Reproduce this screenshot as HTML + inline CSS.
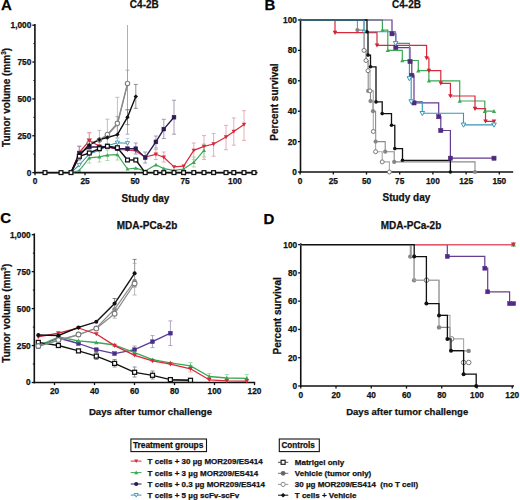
<!DOCTYPE html>
<html><head><meta charset="utf-8"><style>
html,body{margin:0;padding:0;background:#fff;width:520px;height:500px;overflow:hidden}
svg{display:block;font-family:"Liberation Sans",sans-serif}
text{font-family:"Liberation Sans",sans-serif;font-weight:bold;stroke:#111;stroke-width:0.25px}
</style></head><body>
<svg width="520" height="500" viewBox="0 0 520 500" font-family="Liberation Sans, sans-serif" font-weight="bold">
<rect width="520" height="500" fill="#fff"/>
<text x="0.9" y="10.3" font-size="15" text-anchor="start" fill="#000" >A</text>
<text x="264.4" y="10.2" font-size="15" text-anchor="start" fill="#000" >B</text>
<text x="0.3" y="223.4" font-size="15" text-anchor="start" fill="#000" >C</text>
<text x="263.5" y="223.6" font-size="15" text-anchor="start" fill="#000" >D</text>
<text x="144.3" y="8.2" font-size="10" text-anchor="middle" fill="#111" >C4-2B</text>
<text x="406.5" y="8.2" font-size="10" text-anchor="middle" fill="#111" >C4-2B</text>
<text x="147" y="228.5" font-size="10" text-anchor="middle" fill="#111" >MDA-PCa-2b</text>
<text x="411" y="228.8" font-size="10" text-anchor="middle" fill="#111" >MDA-PCa-2b</text>
<line x1="34.9" y1="23.9" x2="34.9" y2="173.4" stroke="#111111" stroke-width="1.6" />
<line x1="32.3" y1="25.2" x2="34.9" y2="25.2" stroke="#111111" stroke-width="1.3" />
<text x="31.3" y="28.19" font-size="8.3" text-anchor="end" fill="#111" >1,000</text>
<line x1="32.3" y1="62.05" x2="34.9" y2="62.05" stroke="#111111" stroke-width="1.3" />
<text x="31.3" y="65.04" font-size="8.3" text-anchor="end" fill="#111" >750</text>
<line x1="32.3" y1="98.9" x2="34.9" y2="98.9" stroke="#111111" stroke-width="1.3" />
<text x="31.3" y="101.89" font-size="8.3" text-anchor="end" fill="#111" >500</text>
<line x1="32.3" y1="135.75" x2="34.9" y2="135.75" stroke="#111111" stroke-width="1.3" />
<text x="31.3" y="138.74" font-size="8.3" text-anchor="end" fill="#111" >250</text>
<line x1="32.3" y1="172.6" x2="34.9" y2="172.6" stroke="#111111" stroke-width="1.3" />
<text x="31.3" y="175.59" font-size="8.3" text-anchor="end" fill="#111" >0</text>
<line x1="33.4" y1="43.62" x2="34.9" y2="43.62" stroke="#111111" stroke-width="1" />
<line x1="33.4" y1="80.47" x2="34.9" y2="80.47" stroke="#111111" stroke-width="1" />
<line x1="33.4" y1="117.32" x2="34.9" y2="117.32" stroke="#111111" stroke-width="1" />
<line x1="33.4" y1="154.17" x2="34.9" y2="154.17" stroke="#111111" stroke-width="1" />
<line x1="34.1" y1="172.6" x2="257.5" y2="172.6" stroke="#111111" stroke-width="1.6" />
<line x1="35" y1="172.6" x2="35" y2="175.2" stroke="#111111" stroke-width="1.3" />
<text x="35" y="183.8" font-size="8.3" text-anchor="middle" fill="#111" >0</text>
<line x1="85" y1="172.6" x2="85" y2="175.2" stroke="#111111" stroke-width="1.3" />
<text x="85" y="183.8" font-size="8.3" text-anchor="middle" fill="#111" >25</text>
<line x1="135" y1="172.6" x2="135" y2="175.2" stroke="#111111" stroke-width="1.3" />
<text x="135" y="183.8" font-size="8.3" text-anchor="middle" fill="#111" >50</text>
<line x1="185" y1="172.6" x2="185" y2="175.2" stroke="#111111" stroke-width="1.3" />
<text x="185" y="183.8" font-size="8.3" text-anchor="middle" fill="#111" >75</text>
<line x1="235" y1="172.6" x2="235" y2="175.2" stroke="#111111" stroke-width="1.3" />
<text x="235" y="183.8" font-size="8.3" text-anchor="middle" fill="#111" >100</text>
<text x="145.5" y="201.5" font-size="10" text-anchor="middle" fill="#111" >Study day</text>
<text x="0" y="0" font-size="10" text-anchor="middle" fill="#111" transform="translate(9.5,97.4) rotate(-90)">Tumor volume (mm<tspan font-size="6.5" dy="-3.9">3</tspan><tspan dy="3.9">)</tspan></text>
<line x1="127.5" y1="25" x2="127.5" y2="134.2" stroke="#b0b0b0" stroke-width="1" />
<line x1="125.5" y1="134.2" x2="129.5" y2="134.2" stroke="#b0b0b0" stroke-width="1" />
<line x1="117.4" y1="97.3" x2="117.4" y2="148" stroke="#b0b0b0" stroke-width="0.8" />
<line x1="115.4" y1="97.3" x2="119.4" y2="97.3" stroke="#b0b0b0" stroke-width="0.8" />
<line x1="115.4" y1="148" x2="119.4" y2="148" stroke="#b0b0b0" stroke-width="0.8" />
<line x1="107.4" y1="119.2" x2="107.4" y2="148" stroke="#b0b0b0" stroke-width="0.8" />
<line x1="105.4" y1="119.2" x2="109.4" y2="119.2" stroke="#b0b0b0" stroke-width="0.8" />
<line x1="105.4" y1="148" x2="109.4" y2="148" stroke="#b0b0b0" stroke-width="0.8" />
<line x1="99.4" y1="130.4" x2="99.4" y2="148" stroke="#b0b0b0" stroke-width="0.8" />
<line x1="97.4" y1="130.4" x2="101.4" y2="130.4" stroke="#b0b0b0" stroke-width="0.8" />
<line x1="97.4" y1="148" x2="101.4" y2="148" stroke="#b0b0b0" stroke-width="0.8" />
<line x1="89.3" y1="133" x2="89.3" y2="150" stroke="#b0b0b0" stroke-width="0.8" />
<line x1="87.3" y1="133" x2="91.3" y2="133" stroke="#b0b0b0" stroke-width="0.8" />
<line x1="87.3" y1="150" x2="91.3" y2="150" stroke="#b0b0b0" stroke-width="0.8" />
<line x1="127.5" y1="70.2" x2="127.5" y2="109.6" stroke="#a0a0a0" stroke-width="0.8" />
<line x1="125.5" y1="70.2" x2="129.5" y2="70.2" stroke="#a0a0a0" stroke-width="0.8" />
<line x1="125.5" y1="109.6" x2="129.5" y2="109.6" stroke="#a0a0a0" stroke-width="0.8" />
<line x1="117.4" y1="116.6" x2="117.4" y2="138" stroke="#a0a0a0" stroke-width="0.8" />
<line x1="115.4" y1="116.6" x2="119.4" y2="116.6" stroke="#a0a0a0" stroke-width="0.8" />
<line x1="115.4" y1="138" x2="119.4" y2="138" stroke="#a0a0a0" stroke-width="0.8" />
<line x1="135.8" y1="84.4" x2="135.8" y2="108.3" stroke="#777777" stroke-width="0.8" />
<line x1="133.8" y1="84.4" x2="137.8" y2="84.4" stroke="#777777" stroke-width="0.8" />
<line x1="133.8" y1="108.3" x2="137.8" y2="108.3" stroke="#777777" stroke-width="0.8" />
<line x1="127.5" y1="109.8" x2="127.5" y2="124.6" stroke="#777777" stroke-width="0.8" />
<line x1="125.5" y1="109.8" x2="129.5" y2="109.8" stroke="#777777" stroke-width="0.8" />
<line x1="125.5" y1="124.6" x2="129.5" y2="124.6" stroke="#777777" stroke-width="0.8" />
<line x1="89.3" y1="132.4" x2="89.3" y2="149" stroke="#e09ca2" stroke-width="0.8" />
<line x1="87.3" y1="132.4" x2="91.3" y2="132.4" stroke="#e09ca2" stroke-width="0.8" />
<line x1="87.3" y1="149" x2="91.3" y2="149" stroke="#e09ca2" stroke-width="0.8" />
<line x1="79.3" y1="146" x2="79.3" y2="158" stroke="#e09ca2" stroke-width="0.8" />
<line x1="77.3" y1="146" x2="81.3" y2="146" stroke="#e09ca2" stroke-width="0.8" />
<line x1="77.3" y1="158" x2="81.3" y2="158" stroke="#e09ca2" stroke-width="0.8" />
<line x1="193.8" y1="143" x2="193.8" y2="159.7" stroke="#e09ca2" stroke-width="0.8" />
<line x1="191.8" y1="143" x2="195.8" y2="143" stroke="#e09ca2" stroke-width="0.8" />
<line x1="191.8" y1="159.7" x2="195.8" y2="159.7" stroke="#e09ca2" stroke-width="0.8" />
<line x1="204" y1="135.6" x2="204" y2="159.4" stroke="#e09ca2" stroke-width="0.8" />
<line x1="202" y1="135.6" x2="206" y2="135.6" stroke="#e09ca2" stroke-width="0.8" />
<line x1="202" y1="159.4" x2="206" y2="159.4" stroke="#e09ca2" stroke-width="0.8" />
<line x1="213.6" y1="133.5" x2="213.6" y2="156.2" stroke="#e09ca2" stroke-width="0.8" />
<line x1="211.6" y1="133.5" x2="215.6" y2="133.5" stroke="#e09ca2" stroke-width="0.8" />
<line x1="211.6" y1="156.2" x2="215.6" y2="156.2" stroke="#e09ca2" stroke-width="0.8" />
<line x1="226" y1="125.4" x2="226" y2="149.7" stroke="#e09ca2" stroke-width="0.8" />
<line x1="224" y1="125.4" x2="228" y2="125.4" stroke="#e09ca2" stroke-width="0.8" />
<line x1="224" y1="149.7" x2="228" y2="149.7" stroke="#e09ca2" stroke-width="0.8" />
<line x1="233.8" y1="117.9" x2="233.8" y2="145.2" stroke="#e09ca2" stroke-width="0.8" />
<line x1="231.8" y1="117.9" x2="235.8" y2="117.9" stroke="#e09ca2" stroke-width="0.8" />
<line x1="231.8" y1="145.2" x2="235.8" y2="145.2" stroke="#e09ca2" stroke-width="0.8" />
<line x1="244" y1="110.7" x2="244" y2="140.4" stroke="#e09ca2" stroke-width="0.8" />
<line x1="242" y1="110.7" x2="246" y2="110.7" stroke="#e09ca2" stroke-width="0.8" />
<line x1="242" y1="140.4" x2="246" y2="140.4" stroke="#e09ca2" stroke-width="0.8" />
<line x1="163.8" y1="152" x2="163.8" y2="162" stroke="#e09ca2" stroke-width="0.8" />
<line x1="161.8" y1="152" x2="165.8" y2="152" stroke="#e09ca2" stroke-width="0.8" />
<line x1="161.8" y1="162" x2="165.8" y2="162" stroke="#e09ca2" stroke-width="0.8" />
<line x1="155.9" y1="149.5" x2="155.9" y2="159.5" stroke="#e09ca2" stroke-width="0.8" />
<line x1="153.9" y1="149.5" x2="157.9" y2="149.5" stroke="#e09ca2" stroke-width="0.8" />
<line x1="153.9" y1="159.5" x2="157.9" y2="159.5" stroke="#e09ca2" stroke-width="0.8" />
<line x1="79.3" y1="146.4" x2="79.3" y2="160" stroke="#8e86a0" stroke-width="0.8" />
<line x1="77.3" y1="146.4" x2="81.3" y2="146.4" stroke="#8e86a0" stroke-width="0.8" />
<line x1="77.3" y1="160" x2="81.3" y2="160" stroke="#8e86a0" stroke-width="0.8" />
<line x1="163.8" y1="119.3" x2="163.8" y2="138.5" stroke="#8e86a0" stroke-width="0.8" />
<line x1="161.8" y1="119.3" x2="165.8" y2="119.3" stroke="#8e86a0" stroke-width="0.8" />
<line x1="161.8" y1="138.5" x2="165.8" y2="138.5" stroke="#8e86a0" stroke-width="0.8" />
<line x1="174" y1="100.2" x2="174" y2="134.2" stroke="#8e86a0" stroke-width="0.8" />
<line x1="172" y1="100.2" x2="176" y2="100.2" stroke="#8e86a0" stroke-width="0.8" />
<line x1="172" y1="134.2" x2="176" y2="134.2" stroke="#8e86a0" stroke-width="0.8" />
<line x1="155.9" y1="136" x2="155.9" y2="148" stroke="#8e86a0" stroke-width="0.8" />
<line x1="153.9" y1="136" x2="157.9" y2="136" stroke="#8e86a0" stroke-width="0.8" />
<line x1="153.9" y1="148" x2="157.9" y2="148" stroke="#8e86a0" stroke-width="0.8" />
<line x1="145.2" y1="152" x2="145.2" y2="163" stroke="#8e86a0" stroke-width="0.8" />
<line x1="143.2" y1="152" x2="147.2" y2="152" stroke="#8e86a0" stroke-width="0.8" />
<line x1="143.2" y1="163" x2="147.2" y2="163" stroke="#8e86a0" stroke-width="0.8" />
<line x1="135.8" y1="143" x2="135.8" y2="154" stroke="#8e86a0" stroke-width="0.8" />
<line x1="133.8" y1="143" x2="137.8" y2="143" stroke="#8e86a0" stroke-width="0.8" />
<line x1="133.8" y1="154" x2="137.8" y2="154" stroke="#8e86a0" stroke-width="0.8" />
<line x1="89.3" y1="153" x2="89.3" y2="163" stroke="#98d49e" stroke-width="0.8" />
<line x1="87.3" y1="153" x2="91.3" y2="153" stroke="#98d49e" stroke-width="0.8" />
<line x1="87.3" y1="163" x2="91.3" y2="163" stroke="#98d49e" stroke-width="0.8" />
<line x1="99.4" y1="151.5" x2="99.4" y2="162" stroke="#98d49e" stroke-width="0.8" />
<line x1="97.4" y1="151.5" x2="101.4" y2="151.5" stroke="#98d49e" stroke-width="0.8" />
<line x1="97.4" y1="162" x2="101.4" y2="162" stroke="#98d49e" stroke-width="0.8" />
<line x1="107.4" y1="150" x2="107.4" y2="160.5" stroke="#98d49e" stroke-width="0.8" />
<line x1="105.4" y1="150" x2="109.4" y2="150" stroke="#98d49e" stroke-width="0.8" />
<line x1="105.4" y1="160.5" x2="109.4" y2="160.5" stroke="#98d49e" stroke-width="0.8" />
<line x1="117.4" y1="149.5" x2="117.4" y2="160" stroke="#98d49e" stroke-width="0.8" />
<line x1="115.4" y1="149.5" x2="119.4" y2="149.5" stroke="#98d49e" stroke-width="0.8" />
<line x1="115.4" y1="160" x2="119.4" y2="160" stroke="#98d49e" stroke-width="0.8" />
<line x1="193.8" y1="157" x2="193.8" y2="167" stroke="#98d49e" stroke-width="0.8" />
<line x1="191.8" y1="157" x2="195.8" y2="157" stroke="#98d49e" stroke-width="0.8" />
<line x1="191.8" y1="167" x2="195.8" y2="167" stroke="#98d49e" stroke-width="0.8" />
<line x1="204" y1="144" x2="204" y2="157" stroke="#98d49e" stroke-width="0.8" />
<line x1="202" y1="144" x2="206" y2="144" stroke="#98d49e" stroke-width="0.8" />
<line x1="202" y1="157" x2="206" y2="157" stroke="#98d49e" stroke-width="0.8" />
<line x1="117.4" y1="138" x2="117.4" y2="147.5" stroke="#9fd4e6" stroke-width="0.8" />
<line x1="115.4" y1="138" x2="119.4" y2="138" stroke="#9fd4e6" stroke-width="0.8" />
<line x1="115.4" y1="147.5" x2="119.4" y2="147.5" stroke="#9fd4e6" stroke-width="0.8" />
<line x1="127.5" y1="138.5" x2="127.5" y2="148.5" stroke="#9fd4e6" stroke-width="0.8" />
<line x1="125.5" y1="138.5" x2="129.5" y2="138.5" stroke="#9fd4e6" stroke-width="0.8" />
<line x1="125.5" y1="148.5" x2="129.5" y2="148.5" stroke="#9fd4e6" stroke-width="0.8" />
<line x1="107.4" y1="139" x2="107.4" y2="149" stroke="#9fd4e6" stroke-width="0.8" />
<line x1="105.4" y1="139" x2="109.4" y2="139" stroke="#9fd4e6" stroke-width="0.8" />
<line x1="105.4" y1="149" x2="109.4" y2="149" stroke="#9fd4e6" stroke-width="0.8" />
<polyline points="71,172.6 79.3,165 89.3,154 99.4,150.3 107.4,145.8 117.4,142.7 127.5,143.2" fill="none" stroke="#3796b8" stroke-width="1.1" stroke-linejoin="round" />
<polyline points="71,172.6 79.3,170.5 89.3,157.9 99.4,156.8 107.4,155.2 117.4,154.7 127.5,169 135.8,168.2 145.2,171 155.9,164.8 163.8,168.6 174,170.3 183.6,169 193.8,162.3 204,150.4" fill="none" stroke="#3ba855" stroke-width="1.2" stroke-linejoin="round" />
<polyline points="71,172.6 79.3,156.5 89.3,143.5 99.4,140.5 107.4,135.5 117.4,124.5 127.5,84.5" fill="none" stroke="#8c8c8c" stroke-width="1.1" stroke-linejoin="round" />
<polyline points="71,172.6 79.3,157.5 89.3,143 99.4,140 107.4,134.5 117.4,123.3 127.5,83.4" fill="none" stroke="#8a8a8a" stroke-width="1.3" stroke-linejoin="round" />
<polyline points="71,172.6 79.3,152.5 89.3,140.6 99.4,146.2 107.4,146.8 117.4,149.5 127.5,150 135.8,151 145.2,157 155.9,154.3 163.8,157.2 174,166.9 183.6,166.2 193.8,150.4 204,146.4 213.6,144 226,137.1 233.8,131.4 244,124.5" fill="none" stroke="#d9293a" stroke-width="1.2" stroke-linejoin="round" />
<polyline points="71,172.6 79.3,153.5 89.3,147 99.4,147 107.4,146.5 117.4,148.7 127.5,148.7 135.8,148.7 145.2,157.7 155.9,141.9 163.8,129.1 174,117.2" fill="none" stroke="#2c1a52" stroke-width="1.4" stroke-linejoin="round" />
<polyline points="71,172.6 79.3,155 89.3,145 99.4,139.7 107.4,137.5 117.4,134.6 127.5,117.2 135.8,96.6" fill="none" stroke="#111111" stroke-width="1.4" stroke-linejoin="round" />
<polyline points="45,172.6 61,172.6 71,172.6 79.3,156.3 89.3,153 99.4,148.6 107.4,146.2 117.4,147.7 127.5,160 135.8,160 145.2,172.6 155.9,172.6 163.8,172.6 174,172.6 183.6,172.6 193.8,172.6 204,172.6 213.6,172.6 226,172.6 233.8,172.6 244,172.6 254,172.6" fill="none" stroke="#111111" stroke-width="1.4" stroke-linejoin="round" />
<path d="M77.3,163.4 L81.3,163.4 L79.3,167 Z" fill="#fff" stroke="#3796b8" stroke-width="0.9"/>
<path d="M87.3,152.4 L91.3,152.4 L89.3,156 Z" fill="#fff" stroke="#3796b8" stroke-width="0.9"/>
<path d="M97.4,148.7 L101.4,148.7 L99.4,152.3 Z" fill="#fff" stroke="#3796b8" stroke-width="0.9"/>
<path d="M105.4,144.2 L109.4,144.2 L107.4,147.8 Z" fill="#fff" stroke="#3796b8" stroke-width="0.9"/>
<path d="M115.4,141.1 L119.4,141.1 L117.4,144.7 Z" fill="#fff" stroke="#3796b8" stroke-width="0.9"/>
<path d="M125.5,141.6 L129.5,141.6 L127.5,145.2 Z" fill="#fff" stroke="#3796b8" stroke-width="0.9"/>
<path d="M77.3,172.1 L81.3,172.1 L79.3,168.5 Z" fill="#3ba855"/>
<path d="M87.3,159.5 L91.3,159.5 L89.3,155.9 Z" fill="#3ba855"/>
<path d="M97.4,158.4 L101.4,158.4 L99.4,154.8 Z" fill="#3ba855"/>
<path d="M105.4,156.8 L109.4,156.8 L107.4,153.2 Z" fill="#3ba855"/>
<path d="M115.4,156.3 L119.4,156.3 L117.4,152.7 Z" fill="#3ba855"/>
<path d="M125.5,170.6 L129.5,170.6 L127.5,167 Z" fill="#3ba855"/>
<path d="M133.8,169.8 L137.8,169.8 L135.8,166.2 Z" fill="#3ba855"/>
<path d="M143.2,172.6 L147.2,172.6 L145.2,169 Z" fill="#3ba855"/>
<path d="M153.9,166.4 L157.9,166.4 L155.9,162.8 Z" fill="#3ba855"/>
<path d="M161.8,170.2 L165.8,170.2 L163.8,166.6 Z" fill="#3ba855"/>
<path d="M172,171.9 L176,171.9 L174,168.3 Z" fill="#3ba855"/>
<path d="M181.6,170.6 L185.6,170.6 L183.6,167 Z" fill="#3ba855"/>
<path d="M191.8,163.9 L195.8,163.9 L193.8,160.3 Z" fill="#3ba855"/>
<path d="M202,152 L206,152 L204,148.4 Z" fill="#3ba855"/>
<circle cx="79.3" cy="156.5" r="2" fill="#8c8c8c"/>
<circle cx="89.3" cy="143.5" r="2" fill="#8c8c8c"/>
<circle cx="99.4" cy="140.5" r="2" fill="#8c8c8c"/>
<circle cx="107.4" cy="135.5" r="2" fill="#8c8c8c"/>
<circle cx="117.4" cy="124.5" r="2" fill="#8c8c8c"/>
<circle cx="127.5" cy="84.5" r="2" fill="#8c8c8c"/>
<circle cx="79.3" cy="157.5" r="2.2" fill="#fff" stroke="#808080" stroke-width="1.1"/>
<circle cx="89.3" cy="143" r="2.2" fill="#fff" stroke="#808080" stroke-width="1.1"/>
<circle cx="99.4" cy="140" r="2.2" fill="#fff" stroke="#808080" stroke-width="1.1"/>
<circle cx="107.4" cy="134.5" r="2.2" fill="#fff" stroke="#808080" stroke-width="1.1"/>
<circle cx="117.4" cy="123.3" r="2.2" fill="#fff" stroke="#808080" stroke-width="1.1"/>
<circle cx="127.5" cy="83.4" r="2.2" fill="#fff" stroke="#808080" stroke-width="1.1"/>
<path d="M77.1,150.74 L81.5,150.74 L79.3,154.7 Z" fill="#d9293a"/>
<path d="M86.6,138.44 L92,138.44 L89.3,143.3 Z" fill="#d9293a"/>
<path d="M97.2,144.44 L101.6,144.44 L99.4,148.4 Z" fill="#d9293a"/>
<path d="M105.2,145.04 L109.6,145.04 L107.4,149 Z" fill="#d9293a"/>
<path d="M115.2,147.74 L119.6,147.74 L117.4,151.7 Z" fill="#d9293a"/>
<path d="M125.3,148.24 L129.7,148.24 L127.5,152.2 Z" fill="#d9293a"/>
<path d="M133.6,149.24 L138,149.24 L135.8,153.2 Z" fill="#d9293a"/>
<path d="M143,155.24 L147.4,155.24 L145.2,159.2 Z" fill="#d9293a"/>
<path d="M153.7,152.54 L158.1,152.54 L155.9,156.5 Z" fill="#d9293a"/>
<path d="M161.6,155.44 L166,155.44 L163.8,159.4 Z" fill="#d9293a"/>
<path d="M171.8,165.14 L176.2,165.14 L174,169.1 Z" fill="#d9293a"/>
<path d="M181.4,164.44 L185.8,164.44 L183.6,168.4 Z" fill="#d9293a"/>
<path d="M191.6,148.64 L196,148.64 L193.8,152.6 Z" fill="#d9293a"/>
<path d="M201.8,144.64 L206.2,144.64 L204,148.6 Z" fill="#d9293a"/>
<path d="M211.4,142.24 L215.8,142.24 L213.6,146.2 Z" fill="#d9293a"/>
<path d="M223.8,135.34 L228.2,135.34 L226,139.3 Z" fill="#d9293a"/>
<path d="M231.6,129.64 L236,129.64 L233.8,133.6 Z" fill="#d9293a"/>
<path d="M241.8,122.74 L246.2,122.74 L244,126.7 Z" fill="#d9293a"/>
<rect x="77.4" y="151.6" width="3.8" height="3.8" fill="#2c1a52" stroke="#2c1a52" stroke-width="0.5"/>
<rect x="87.4" y="145.1" width="3.8" height="3.8" fill="#2c1a52" stroke="#2c1a52" stroke-width="0.5"/>
<rect x="97.5" y="145.1" width="3.8" height="3.8" fill="#2c1a52" stroke="#2c1a52" stroke-width="0.5"/>
<rect x="105.5" y="144.6" width="3.8" height="3.8" fill="#2c1a52" stroke="#2c1a52" stroke-width="0.5"/>
<rect x="115.5" y="146.8" width="3.8" height="3.8" fill="#2c1a52" stroke="#2c1a52" stroke-width="0.5"/>
<rect x="125.6" y="146.8" width="3.8" height="3.8" fill="#2c1a52" stroke="#2c1a52" stroke-width="0.5"/>
<rect x="133.9" y="146.8" width="3.8" height="3.8" fill="#2c1a52" stroke="#2c1a52" stroke-width="0.5"/>
<rect x="143.3" y="155.8" width="3.8" height="3.8" fill="#2c1a52" stroke="#2c1a52" stroke-width="0.5"/>
<rect x="154" y="140" width="3.8" height="3.8" fill="#2c1a52" stroke="#2c1a52" stroke-width="0.5"/>
<rect x="161.9" y="127.2" width="3.8" height="3.8" fill="#2c1a52" stroke="#2c1a52" stroke-width="0.5"/>
<rect x="172.1" y="115.3" width="3.8" height="3.8" fill="#2c1a52" stroke="#2c1a52" stroke-width="0.5"/>
<path d="M79.3,152.8 L81.5,155 L79.3,157.2 L77.1,155 Z" fill="#111111"/>
<path d="M89.3,142.8 L91.5,145 L89.3,147.2 L87.1,145 Z" fill="#111111"/>
<path d="M99.4,137.5 L101.6,139.7 L99.4,141.9 L97.2,139.7 Z" fill="#111111"/>
<path d="M107.4,135.3 L109.6,137.5 L107.4,139.7 L105.2,137.5 Z" fill="#111111"/>
<path d="M117.4,132.4 L119.6,134.6 L117.4,136.8 L115.2,134.6 Z" fill="#111111"/>
<path d="M127.5,115 L129.7,117.2 L127.5,119.4 L125.3,117.2 Z" fill="#111111"/>
<path d="M135.8,94.4 L138,96.6 L135.8,98.8 L133.6,96.6 Z" fill="#111111"/>
<rect x="43.1" y="170.7" width="3.8" height="3.8" fill="#fff" stroke="#111111" stroke-width="1.25"/>
<rect x="59.1" y="170.7" width="3.8" height="3.8" fill="#fff" stroke="#111111" stroke-width="1.25"/>
<rect x="69.1" y="170.7" width="3.8" height="3.8" fill="#fff" stroke="#111111" stroke-width="1.25"/>
<rect x="77.4" y="154.4" width="3.8" height="3.8" fill="#fff" stroke="#111111" stroke-width="1.25"/>
<rect x="87.4" y="151.1" width="3.8" height="3.8" fill="#fff" stroke="#111111" stroke-width="1.25"/>
<rect x="97.5" y="146.7" width="3.8" height="3.8" fill="#fff" stroke="#111111" stroke-width="1.25"/>
<rect x="105.5" y="144.3" width="3.8" height="3.8" fill="#fff" stroke="#111111" stroke-width="1.25"/>
<rect x="115.5" y="145.8" width="3.8" height="3.8" fill="#fff" stroke="#111111" stroke-width="1.25"/>
<rect x="125.6" y="158.1" width="3.8" height="3.8" fill="#fff" stroke="#111111" stroke-width="1.25"/>
<rect x="133.9" y="158.1" width="3.8" height="3.8" fill="#fff" stroke="#111111" stroke-width="1.25"/>
<rect x="143.3" y="170.7" width="3.8" height="3.8" fill="#fff" stroke="#111111" stroke-width="1.25"/>
<rect x="154" y="170.7" width="3.8" height="3.8" fill="#fff" stroke="#111111" stroke-width="1.25"/>
<rect x="161.9" y="170.7" width="3.8" height="3.8" fill="#fff" stroke="#111111" stroke-width="1.25"/>
<rect x="172.1" y="170.7" width="3.8" height="3.8" fill="#fff" stroke="#111111" stroke-width="1.25"/>
<rect x="181.7" y="170.7" width="3.8" height="3.8" fill="#fff" stroke="#111111" stroke-width="1.25"/>
<rect x="191.9" y="170.7" width="3.8" height="3.8" fill="#fff" stroke="#111111" stroke-width="1.25"/>
<rect x="202.1" y="170.7" width="3.8" height="3.8" fill="#fff" stroke="#111111" stroke-width="1.25"/>
<rect x="211.7" y="170.7" width="3.8" height="3.8" fill="#fff" stroke="#111111" stroke-width="1.25"/>
<rect x="224.1" y="170.7" width="3.8" height="3.8" fill="#fff" stroke="#111111" stroke-width="1.25"/>
<rect x="231.9" y="170.7" width="3.8" height="3.8" fill="#fff" stroke="#111111" stroke-width="1.25"/>
<rect x="242.1" y="170.7" width="3.8" height="3.8" fill="#fff" stroke="#111111" stroke-width="1.25"/>
<rect x="252.1" y="170.7" width="3.8" height="3.8" fill="#fff" stroke="#111111" stroke-width="1.25"/>
<line x1="300.5" y1="18.7" x2="300.5" y2="172.8" stroke="#111111" stroke-width="1.6" />
<line x1="297.9" y1="20" x2="300.5" y2="20" stroke="#111111" stroke-width="1.3" />
<text x="296.9" y="22.99" font-size="8.3" text-anchor="end" fill="#111" >100</text>
<line x1="297.9" y1="50.4" x2="300.5" y2="50.4" stroke="#111111" stroke-width="1.3" />
<text x="296.9" y="53.39" font-size="8.3" text-anchor="end" fill="#111" >80</text>
<line x1="297.9" y1="80.8" x2="300.5" y2="80.8" stroke="#111111" stroke-width="1.3" />
<text x="296.9" y="83.79" font-size="8.3" text-anchor="end" fill="#111" >60</text>
<line x1="297.9" y1="111.2" x2="300.5" y2="111.2" stroke="#111111" stroke-width="1.3" />
<text x="296.9" y="114.19" font-size="8.3" text-anchor="end" fill="#111" >40</text>
<line x1="297.9" y1="141.6" x2="300.5" y2="141.6" stroke="#111111" stroke-width="1.3" />
<text x="296.9" y="144.59" font-size="8.3" text-anchor="end" fill="#111" >20</text>
<line x1="297.9" y1="172" x2="300.5" y2="172" stroke="#111111" stroke-width="1.3" />
<text x="296.9" y="174.99" font-size="8.3" text-anchor="end" fill="#111" >0</text>
<line x1="299.7" y1="172" x2="513.2" y2="172" stroke="#111111" stroke-width="1.6" />
<line x1="300.1" y1="172" x2="300.1" y2="174.6" stroke="#111111" stroke-width="1.3" />
<text x="300.1" y="183.6" font-size="8.3" text-anchor="middle" fill="#111" >0</text>
<line x1="333.3" y1="172" x2="333.3" y2="174.6" stroke="#111111" stroke-width="1.3" />
<text x="333.3" y="183.6" font-size="8.3" text-anchor="middle" fill="#111" >25</text>
<line x1="366.5" y1="172" x2="366.5" y2="174.6" stroke="#111111" stroke-width="1.3" />
<text x="366.5" y="183.6" font-size="8.3" text-anchor="middle" fill="#111" >50</text>
<line x1="399.7" y1="172" x2="399.7" y2="174.6" stroke="#111111" stroke-width="1.3" />
<text x="399.7" y="183.6" font-size="8.3" text-anchor="middle" fill="#111" >75</text>
<line x1="432.9" y1="172" x2="432.9" y2="174.6" stroke="#111111" stroke-width="1.3" />
<text x="432.9" y="183.6" font-size="8.3" text-anchor="middle" fill="#111" >100</text>
<line x1="466.1" y1="172" x2="466.1" y2="174.6" stroke="#111111" stroke-width="1.3" />
<text x="466.1" y="183.6" font-size="8.3" text-anchor="middle" fill="#111" >125</text>
<line x1="499.3" y1="172" x2="499.3" y2="174.6" stroke="#111111" stroke-width="1.3" />
<text x="499.3" y="183.6" font-size="8.3" text-anchor="middle" fill="#111" >150</text>
<text x="406.4" y="201.4" font-size="10" text-anchor="middle" fill="#111" >Study day</text>
<text x="0" y="0" font-size="10" text-anchor="middle" fill="#111" transform="translate(278.3,102) rotate(-90)">Percent survival</text>
<path d="M300.5,20 H382.4 V30.1 H387.8 V50.4 H402.3 V60.5 H418.3 V70.7 H428.9 V80.8 H459.7 V101 H484.8 V111.2 H494" fill="none" stroke="#3ba855" stroke-width="1.2" stroke-linejoin="miter"/>
<path d="M300.5,20 H392 V33.8 H395.8 V47.6 H410 V61.5 H411.8 V75.3 H414 V102.9 H438.7 V116.7 H440.8 V130.5 H450.4 V158.2 H494" fill="none" stroke="#633b93" stroke-width="1.2" stroke-linejoin="miter"/>
<path d="M300.5,20 H335 V32.7 H377 V45.3 H426.6 V58 H428.9 V70.7 H440.8 V83.3 H450.4 V96 H475 V108.7 H485.5 V121.3 H494" fill="none" stroke="#d9293a" stroke-width="1.2" stroke-linejoin="miter"/>
<path d="M300.5,20 H357.4 V30.1 H364.2 V50.4 H366.2 V60.5 H368.2 V90.9 H370.5 V101.1 H373 V111.2 H375.6 V141.6 H385.2 V151.7 H394.2 V161.9 H475 V172" fill="none" stroke="#8a8a8a" stroke-width="1.1" stroke-linejoin="miter"/>
<path d="M300.5,20 H364 V50.4 H366 V60.5 H368 V70.7 H370 V90.9 H373.3 V131.5 H375.6 V151.7 H382.2 V161.9 H389.4 V172" fill="none" stroke="#a8a8a8" stroke-width="1.1" stroke-linejoin="miter"/>
<path d="M300.5,20 H367 V31.7 H368 V55.1 H370.5 V66.8 H376 V101.9 H382.2 V113.6 H391.5 V125.3 H394.8 V148.6 H402.5 V160.3 H450.4 V172" fill="none" stroke="#111111" stroke-width="1.3" stroke-linejoin="miter"/>
<path d="M300.5,20 H364 V31.7 H395.6 V43.4 H409.4 V78.5 H411.2 V101.6 H422.3 V113.3 H463.5 V124.9 H494" fill="none" stroke="#3796b8" stroke-width="1.1" stroke-linejoin="miter"/>
<path d="M380.3,31.78 L384.5,31.78 L382.4,28 Z" fill="#3ba855"/>
<path d="M385.7,52.08 L389.9,52.08 L387.8,48.3 Z" fill="#3ba855"/>
<path d="M400.2,62.18 L404.4,62.18 L402.3,58.4 Z" fill="#3ba855"/>
<path d="M416.2,72.38 L420.4,72.38 L418.3,68.6 Z" fill="#3ba855"/>
<path d="M426.8,82.48 L431,82.48 L428.9,78.7 Z" fill="#3ba855"/>
<path d="M457.6,102.68 L461.8,102.68 L459.7,98.9 Z" fill="#3ba855"/>
<path d="M482.7,112.88 L486.9,112.88 L484.8,109.1 Z" fill="#3ba855"/>
<path d="M491.9,112.88 L496.1,112.88 L494,109.1 Z" fill="#3ba855"/>
<rect x="389.9" y="31.7" width="4.2" height="4.2" fill="#4f2a7d" stroke="#4f2a7d" stroke-width="0.5"/>
<rect x="393.7" y="45.5" width="4.2" height="4.2" fill="#4f2a7d" stroke="#4f2a7d" stroke-width="0.5"/>
<rect x="407.9" y="59.4" width="4.2" height="4.2" fill="#4f2a7d" stroke="#4f2a7d" stroke-width="0.5"/>
<rect x="409.7" y="73.2" width="4.2" height="4.2" fill="#4f2a7d" stroke="#4f2a7d" stroke-width="0.5"/>
<rect x="411.9" y="100.8" width="4.2" height="4.2" fill="#4f2a7d" stroke="#4f2a7d" stroke-width="0.5"/>
<rect x="436.6" y="114.6" width="4.2" height="4.2" fill="#4f2a7d" stroke="#4f2a7d" stroke-width="0.5"/>
<rect x="438.7" y="128.4" width="4.2" height="4.2" fill="#4f2a7d" stroke="#4f2a7d" stroke-width="0.5"/>
<rect x="448.3" y="156.1" width="4.2" height="4.2" fill="#4f2a7d" stroke="#4f2a7d" stroke-width="0.5"/>
<rect x="491.9" y="156.1" width="4.2" height="4.2" fill="#4f2a7d" stroke="#4f2a7d" stroke-width="0.5"/>
<path d="M332.7,30.86 L337.3,30.86 L335,35 Z" fill="#cf2236"/>
<path d="M374.7,43.46 L379.3,43.46 L377,47.6 Z" fill="#cf2236"/>
<path d="M424.3,56.16 L428.9,56.16 L426.6,60.3 Z" fill="#cf2236"/>
<path d="M426.6,68.86 L431.2,68.86 L428.9,73 Z" fill="#cf2236"/>
<path d="M438.5,81.46 L443.1,81.46 L440.8,85.6 Z" fill="#cf2236"/>
<path d="M448.1,94.16 L452.7,94.16 L450.4,98.3 Z" fill="#cf2236"/>
<path d="M472.7,106.86 L477.3,106.86 L475,111 Z" fill="#cf2236"/>
<path d="M483.2,119.46 L487.8,119.46 L485.5,123.6 Z" fill="#cf2236"/>
<path d="M491.7,119.46 L496.3,119.46 L494,123.6 Z" fill="#cf2236"/>
<circle cx="357.4" cy="30.1" r="2.1" fill="#858585"/>
<circle cx="368.2" cy="90.9" r="2.1" fill="#858585"/>
<circle cx="370.5" cy="101.1" r="2.1" fill="#858585"/>
<circle cx="373" cy="111.2" r="2.1" fill="#858585"/>
<circle cx="375.6" cy="141.6" r="2.1" fill="#858585"/>
<circle cx="385.2" cy="151.7" r="2.1" fill="#858585"/>
<circle cx="394.2" cy="161.9" r="2.1" fill="#858585"/>
<circle cx="475" cy="172" r="2.1" fill="#858585"/>
<circle cx="364" cy="50.4" r="2" fill="#fff" stroke="#777777" stroke-width="1"/>
<circle cx="366" cy="60.5" r="2" fill="#fff" stroke="#777777" stroke-width="1"/>
<circle cx="368" cy="70.7" r="2" fill="#fff" stroke="#777777" stroke-width="1"/>
<circle cx="370" cy="90.9" r="2" fill="#fff" stroke="#777777" stroke-width="1"/>
<circle cx="373.3" cy="131.5" r="2" fill="#fff" stroke="#777777" stroke-width="1"/>
<circle cx="375.6" cy="151.7" r="2" fill="#fff" stroke="#777777" stroke-width="1"/>
<circle cx="382.2" cy="161.9" r="2" fill="#fff" stroke="#777777" stroke-width="1"/>
<circle cx="389.4" cy="172" r="2" fill="#fff" stroke="#777777" stroke-width="1"/>
<circle cx="367" cy="31.7" r="1.8" fill="#111111"/>
<circle cx="368" cy="55.1" r="1.8" fill="#111111"/>
<circle cx="370.5" cy="66.8" r="1.8" fill="#111111"/>
<circle cx="376" cy="101.9" r="1.8" fill="#111111"/>
<circle cx="382.2" cy="113.6" r="1.8" fill="#111111"/>
<circle cx="391.5" cy="125.3" r="1.8" fill="#111111"/>
<circle cx="394.8" cy="148.6" r="1.8" fill="#111111"/>
<circle cx="402.5" cy="160.3" r="1.8" fill="#111111"/>
<circle cx="450.4" cy="172" r="1.8" fill="#111111"/>
<path d="M362.2,30.26 L365.8,30.26 L364,33.5 Z" fill="#fff" stroke="#3796b8" stroke-width="1"/>
<path d="M393.3,41.56 L397.9,41.56 L395.6,45.7 Z" fill="#fff" stroke="#3796b8" stroke-width="1"/>
<path d="M407.1,76.66 L411.7,76.66 L409.4,80.8 Z" fill="#fff" stroke="#3796b8" stroke-width="1"/>
<path d="M408.9,99.76 L413.5,99.76 L411.2,103.9 Z" fill="#fff" stroke="#3796b8" stroke-width="1"/>
<path d="M420,111.46 L424.6,111.46 L422.3,115.6 Z" fill="#fff" stroke="#3796b8" stroke-width="1"/>
<path d="M461.2,123.06 L465.8,123.06 L463.5,127.2 Z" fill="#fff" stroke="#3796b8" stroke-width="1"/>
<path d="M491.7,123.06 L496.3,123.06 L494,127.2 Z" fill="#fff" stroke="#3796b8" stroke-width="1"/>
<line x1="34.3" y1="233.4" x2="34.3" y2="383.3" stroke="#111111" stroke-width="1.6" />
<line x1="31.7" y1="234.7" x2="34.3" y2="234.7" stroke="#111111" stroke-width="1.3" />
<text x="30.7" y="237.69" font-size="8.3" text-anchor="end" fill="#111" >1,000</text>
<line x1="31.7" y1="271.65" x2="34.3" y2="271.65" stroke="#111111" stroke-width="1.3" />
<text x="30.7" y="274.64" font-size="8.3" text-anchor="end" fill="#111" >750</text>
<line x1="31.7" y1="308.6" x2="34.3" y2="308.6" stroke="#111111" stroke-width="1.3" />
<text x="30.7" y="311.59" font-size="8.3" text-anchor="end" fill="#111" >500</text>
<line x1="31.7" y1="345.55" x2="34.3" y2="345.55" stroke="#111111" stroke-width="1.3" />
<text x="30.7" y="348.54" font-size="8.3" text-anchor="end" fill="#111" >250</text>
<line x1="31.7" y1="382.5" x2="34.3" y2="382.5" stroke="#111111" stroke-width="1.3" />
<text x="30.7" y="385.49" font-size="8.3" text-anchor="end" fill="#111" >0</text>
<line x1="32.8" y1="253.17" x2="34.3" y2="253.17" stroke="#111111" stroke-width="1" />
<line x1="32.8" y1="290.12" x2="34.3" y2="290.12" stroke="#111111" stroke-width="1" />
<line x1="32.8" y1="327.07" x2="34.3" y2="327.07" stroke="#111111" stroke-width="1" />
<line x1="32.8" y1="364.02" x2="34.3" y2="364.02" stroke="#111111" stroke-width="1" />
<line x1="33.5" y1="382.5" x2="255.2" y2="382.5" stroke="#111111" stroke-width="1.6" />
<line x1="54.5" y1="382.5" x2="54.5" y2="385.1" stroke="#111111" stroke-width="1.3" />
<text x="54.5" y="394.2" font-size="8.3" text-anchor="middle" fill="#111" >20</text>
<line x1="94.5" y1="382.5" x2="94.5" y2="385.1" stroke="#111111" stroke-width="1.3" />
<text x="94.5" y="394.2" font-size="8.3" text-anchor="middle" fill="#111" >40</text>
<line x1="134.5" y1="382.5" x2="134.5" y2="385.1" stroke="#111111" stroke-width="1.3" />
<text x="134.5" y="394.2" font-size="8.3" text-anchor="middle" fill="#111" >60</text>
<line x1="174.5" y1="382.5" x2="174.5" y2="385.1" stroke="#111111" stroke-width="1.3" />
<text x="174.5" y="394.2" font-size="8.3" text-anchor="middle" fill="#111" >80</text>
<line x1="214.5" y1="382.5" x2="214.5" y2="385.1" stroke="#111111" stroke-width="1.3" />
<text x="214.5" y="394.2" font-size="8.3" text-anchor="middle" fill="#111" >100</text>
<line x1="254.5" y1="382.5" x2="254.5" y2="385.1" stroke="#111111" stroke-width="1.3" />
<text x="254.5" y="394.2" font-size="8.3" text-anchor="middle" fill="#111" >120</text>
<text x="150.5" y="415.2" font-size="9.6" text-anchor="middle" fill="#111" >Days after tumor challenge</text>
<text x="0" y="0" font-size="10" text-anchor="middle" fill="#111" transform="translate(9.6,313.2) rotate(-90)">Tumor volume (mm<tspan font-size="6.5" dy="-3.9">3</tspan><tspan dy="3.9">)</tspan></text>
<line x1="134.6" y1="259.4" x2="134.6" y2="287" stroke="#666666" stroke-width="0.8" />
<line x1="132.6" y1="259.4" x2="136.6" y2="259.4" stroke="#666666" stroke-width="0.8" />
<line x1="132.6" y1="287" x2="136.6" y2="287" stroke="#666666" stroke-width="0.8" />
<line x1="114.6" y1="298.5" x2="114.6" y2="309" stroke="#666666" stroke-width="0.8" />
<line x1="112.6" y1="298.5" x2="116.6" y2="298.5" stroke="#666666" stroke-width="0.8" />
<line x1="112.6" y1="309" x2="116.6" y2="309" stroke="#666666" stroke-width="0.8" />
<line x1="134.6" y1="263.4" x2="134.6" y2="295" stroke="#aaaaaa" stroke-width="0.8" />
<line x1="132.6" y1="263.4" x2="136.6" y2="263.4" stroke="#aaaaaa" stroke-width="0.8" />
<line x1="132.6" y1="295" x2="136.6" y2="295" stroke="#aaaaaa" stroke-width="0.8" />
<line x1="114.6" y1="303" x2="114.6" y2="318.2" stroke="#aaaaaa" stroke-width="0.8" />
<line x1="112.6" y1="303" x2="116.6" y2="303" stroke="#aaaaaa" stroke-width="0.8" />
<line x1="112.6" y1="318.2" x2="116.6" y2="318.2" stroke="#aaaaaa" stroke-width="0.8" />
<line x1="152.5" y1="335.6" x2="152.5" y2="347.6" stroke="#9c92b4" stroke-width="0.8" />
<line x1="150.5" y1="335.6" x2="154.5" y2="335.6" stroke="#9c92b4" stroke-width="0.8" />
<line x1="150.5" y1="347.6" x2="154.5" y2="347.6" stroke="#9c92b4" stroke-width="0.8" />
<line x1="170.4" y1="320.9" x2="170.4" y2="345.5" stroke="#9c92b4" stroke-width="0.8" />
<line x1="168.4" y1="320.9" x2="172.4" y2="320.9" stroke="#9c92b4" stroke-width="0.8" />
<line x1="168.4" y1="345.5" x2="172.4" y2="345.5" stroke="#9c92b4" stroke-width="0.8" />
<line x1="134.6" y1="346" x2="134.6" y2="353.5" stroke="#9c92b4" stroke-width="0.8" />
<line x1="132.6" y1="346" x2="136.6" y2="346" stroke="#9c92b4" stroke-width="0.8" />
<line x1="132.6" y1="353.5" x2="136.6" y2="353.5" stroke="#9c92b4" stroke-width="0.8" />
<line x1="209.2" y1="373.5" x2="209.2" y2="379.5" stroke="#98d49e" stroke-width="0.8" />
<line x1="207.2" y1="373.5" x2="211.2" y2="373.5" stroke="#98d49e" stroke-width="0.8" />
<line x1="207.2" y1="379.5" x2="211.2" y2="379.5" stroke="#98d49e" stroke-width="0.8" />
<line x1="226.8" y1="374.5" x2="226.8" y2="381" stroke="#98d49e" stroke-width="0.8" />
<line x1="224.8" y1="374.5" x2="228.8" y2="374.5" stroke="#98d49e" stroke-width="0.8" />
<line x1="224.8" y1="381" x2="228.8" y2="381" stroke="#98d49e" stroke-width="0.8" />
<line x1="246.8" y1="374.5" x2="246.8" y2="381.5" stroke="#98d49e" stroke-width="0.8" />
<line x1="244.8" y1="374.5" x2="248.8" y2="374.5" stroke="#98d49e" stroke-width="0.8" />
<line x1="244.8" y1="381.5" x2="248.8" y2="381.5" stroke="#98d49e" stroke-width="0.8" />
<line x1="190.5" y1="362.5" x2="190.5" y2="369" stroke="#98d49e" stroke-width="0.8" />
<line x1="188.5" y1="362.5" x2="192.5" y2="362.5" stroke="#98d49e" stroke-width="0.8" />
<line x1="188.5" y1="369" x2="192.5" y2="369" stroke="#98d49e" stroke-width="0.8" />
<line x1="190.5" y1="365.5" x2="190.5" y2="372" stroke="#e09ca2" stroke-width="0.8" />
<line x1="188.5" y1="365.5" x2="192.5" y2="365.5" stroke="#e09ca2" stroke-width="0.8" />
<line x1="188.5" y1="372" x2="192.5" y2="372" stroke="#e09ca2" stroke-width="0.8" />
<line x1="114.6" y1="359.5" x2="114.6" y2="367" stroke="#777777" stroke-width="0.8" />
<line x1="112.6" y1="359.5" x2="116.6" y2="359.5" stroke="#777777" stroke-width="0.8" />
<line x1="112.6" y1="367" x2="116.6" y2="367" stroke="#777777" stroke-width="0.8" />
<line x1="134.6" y1="367" x2="134.6" y2="377" stroke="#777777" stroke-width="0.8" />
<line x1="132.6" y1="367" x2="136.6" y2="367" stroke="#777777" stroke-width="0.8" />
<line x1="132.6" y1="377" x2="136.6" y2="377" stroke="#777777" stroke-width="0.8" />
<line x1="152.5" y1="371" x2="152.5" y2="379" stroke="#777777" stroke-width="0.8" />
<line x1="150.5" y1="371" x2="154.5" y2="371" stroke="#777777" stroke-width="0.8" />
<line x1="150.5" y1="379" x2="154.5" y2="379" stroke="#777777" stroke-width="0.8" />
<line x1="96.3" y1="352.5" x2="96.3" y2="359.5" stroke="#777777" stroke-width="0.8" />
<line x1="94.3" y1="352.5" x2="98.3" y2="352.5" stroke="#777777" stroke-width="0.8" />
<line x1="94.3" y1="359.5" x2="98.3" y2="359.5" stroke="#777777" stroke-width="0.8" />
<polyline points="38.3,346.5 58.4,338 78.5,343.5 96.3,349.7 114.6,353.6 134.6,349.7 152.5,341.7 170.4,333.2" fill="none" stroke="#5b3e9c" stroke-width="1.3" stroke-linejoin="round" />
<rect x="36.4" y="344.6" width="3.8" height="3.8" fill="#4a2e8c" stroke="#4a2e8c" stroke-width="0.5"/>
<rect x="56.5" y="336.1" width="3.8" height="3.8" fill="#4a2e8c" stroke="#4a2e8c" stroke-width="0.5"/>
<rect x="76.6" y="341.6" width="3.8" height="3.8" fill="#4a2e8c" stroke="#4a2e8c" stroke-width="0.5"/>
<rect x="94.4" y="347.8" width="3.8" height="3.8" fill="#4a2e8c" stroke="#4a2e8c" stroke-width="0.5"/>
<rect x="112.7" y="351.7" width="3.8" height="3.8" fill="#4a2e8c" stroke="#4a2e8c" stroke-width="0.5"/>
<rect x="132.7" y="347.8" width="3.8" height="3.8" fill="#4a2e8c" stroke="#4a2e8c" stroke-width="0.5"/>
<rect x="150.6" y="339.8" width="3.8" height="3.8" fill="#4a2e8c" stroke="#4a2e8c" stroke-width="0.5"/>
<rect x="168.5" y="331.3" width="3.8" height="3.8" fill="#4a2e8c" stroke="#4a2e8c" stroke-width="0.5"/>
<polyline points="38.3,345.8 58.4,337 78.5,340.8 96.3,342.5 114.6,345 134.6,352.7 152.5,359.6 170.4,362.8 190.5,365.9 209.2,376.5 226.8,378 246.8,378.3" fill="none" stroke="#3ba855" stroke-width="1.3" stroke-linejoin="round" />
<path d="M36.1,347.56 L40.5,347.56 L38.3,343.6 Z" fill="#3ba855"/>
<path d="M56.2,338.76 L60.6,338.76 L58.4,334.8 Z" fill="#3ba855"/>
<path d="M76.3,342.56 L80.7,342.56 L78.5,338.6 Z" fill="#3ba855"/>
<path d="M94.1,344.26 L98.5,344.26 L96.3,340.3 Z" fill="#3ba855"/>
<path d="M112.4,346.76 L116.8,346.76 L114.6,342.8 Z" fill="#3ba855"/>
<path d="M132.4,354.46 L136.8,354.46 L134.6,350.5 Z" fill="#3ba855"/>
<path d="M150.3,361.36 L154.7,361.36 L152.5,357.4 Z" fill="#3ba855"/>
<path d="M168.2,364.56 L172.6,364.56 L170.4,360.6 Z" fill="#3ba855"/>
<path d="M188.3,367.66 L192.7,367.66 L190.5,363.7 Z" fill="#3ba855"/>
<path d="M207,378.26 L211.4,378.26 L209.2,374.3 Z" fill="#3ba855"/>
<path d="M224.6,379.76 L229,379.76 L226.8,375.8 Z" fill="#3ba855"/>
<path d="M244.6,380.06 L249,380.06 L246.8,376.1 Z" fill="#3ba855"/>
<line x1="172.5" y1="380.2" x2="188.5" y2="380.4" stroke="#6a6a6a" stroke-width="2.2" />
<polyline points="38.3,342.4 58.4,345.5 78.5,350.9 96.3,356.1 114.6,363.4 134.6,372.3 152.5,375.3 170.4,379.6 190.5,380.3" fill="none" stroke="#111111" stroke-width="1.3" stroke-linejoin="round" />
<rect x="36.3" y="340.4" width="4" height="4" fill="#fff" stroke="#111111" stroke-width="1.25"/>
<rect x="56.4" y="343.5" width="4" height="4" fill="#fff" stroke="#111111" stroke-width="1.25"/>
<rect x="76.5" y="348.9" width="4" height="4" fill="#fff" stroke="#111111" stroke-width="1.25"/>
<rect x="94.3" y="354.1" width="4" height="4" fill="#fff" stroke="#111111" stroke-width="1.25"/>
<rect x="112.6" y="361.4" width="4" height="4" fill="#fff" stroke="#111111" stroke-width="1.25"/>
<rect x="132.6" y="370.3" width="4" height="4" fill="#fff" stroke="#111111" stroke-width="1.25"/>
<rect x="150.5" y="373.3" width="4" height="4" fill="#fff" stroke="#111111" stroke-width="1.25"/>
<rect x="168.4" y="377.6" width="4" height="4" fill="#fff" stroke="#111111" stroke-width="1.25"/>
<rect x="188.5" y="378.3" width="4" height="4" fill="#fff" stroke="#111111" stroke-width="1.25"/>
<polyline points="38.3,346.5 58.4,340.5 78.5,334.8 96.3,328 114.6,309.2 134.6,281" fill="none" stroke="#8a8a8a" stroke-width="1.2" stroke-linejoin="round" />
<circle cx="38.3" cy="346.5" r="2.2" fill="#8a8a8a"/>
<circle cx="58.4" cy="340.5" r="2.2" fill="#8a8a8a"/>
<circle cx="78.5" cy="334.8" r="2.2" fill="#8a8a8a"/>
<circle cx="96.3" cy="328" r="2.2" fill="#8a8a8a"/>
<circle cx="114.6" cy="309.2" r="2.2" fill="#8a8a8a"/>
<circle cx="134.6" cy="281" r="2.2" fill="#8a8a8a"/>
<polyline points="38.3,346 58.4,340 78.5,334.5 96.3,328.5 114.6,313.7 134.6,283.5" fill="none" stroke="#8a8a8a" stroke-width="1.2" stroke-linejoin="round" />
<circle cx="38.3" cy="346" r="2.4" fill="#fff" stroke="#7a7a7a" stroke-width="1.1"/>
<circle cx="58.4" cy="340" r="2.4" fill="#fff" stroke="#7a7a7a" stroke-width="1.1"/>
<circle cx="78.5" cy="334.5" r="2.4" fill="#fff" stroke="#7a7a7a" stroke-width="1.1"/>
<circle cx="96.3" cy="328.5" r="2.4" fill="#fff" stroke="#7a7a7a" stroke-width="1.1"/>
<circle cx="114.6" cy="313.7" r="2.4" fill="#fff" stroke="#7a7a7a" stroke-width="1.1"/>
<circle cx="134.6" cy="283.5" r="2.4" fill="#fff" stroke="#7a7a7a" stroke-width="1.1"/>
<polyline points="38.3,336.9 58.4,333.1 78.5,328 96.3,334 114.6,345.6 134.6,355.3 152.5,360.9 170.4,364.1 190.5,368.8 209.2,379.8 226.8,380.8 246.8,381.2" fill="none" stroke="#d9293a" stroke-width="1.3" stroke-linejoin="round" />
<path d="M36,335.06 L40.6,335.06 L38.3,339.2 Z" fill="#d9293a"/>
<path d="M56.1,331.26 L60.7,331.26 L58.4,335.4 Z" fill="#d9293a"/>
<path d="M76.2,326.16 L80.8,326.16 L78.5,330.3 Z" fill="#d9293a"/>
<path d="M94,332.16 L98.6,332.16 L96.3,336.3 Z" fill="#d9293a"/>
<path d="M112.3,343.76 L116.9,343.76 L114.6,347.9 Z" fill="#d9293a"/>
<path d="M132.3,353.46 L136.9,353.46 L134.6,357.6 Z" fill="#d9293a"/>
<path d="M150.2,359.06 L154.8,359.06 L152.5,363.2 Z" fill="#d9293a"/>
<path d="M168.1,362.26 L172.7,362.26 L170.4,366.4 Z" fill="#d9293a"/>
<path d="M188.2,366.96 L192.8,366.96 L190.5,371.1 Z" fill="#d9293a"/>
<path d="M206.9,377.96 L211.5,377.96 L209.2,382.1 Z" fill="#d9293a"/>
<path d="M224.5,378.96 L229.1,378.96 L226.8,383.1 Z" fill="#d9293a"/>
<path d="M244.5,379.36 L249.1,379.36 L246.8,383.5 Z" fill="#d9293a"/>
<polyline points="38.3,335 58.4,335.5 78.5,327.4 96.3,321.8 114.6,303.6 134.6,273.3" fill="none" stroke="#111111" stroke-width="1.4" stroke-linejoin="round" />
<circle cx="38.3" cy="335" r="2" fill="#111111"/>
<circle cx="58.4" cy="335.5" r="2" fill="#111111"/>
<circle cx="78.5" cy="327.4" r="2" fill="#111111"/>
<circle cx="96.3" cy="321.8" r="2" fill="#111111"/>
<circle cx="114.6" cy="303.6" r="2" fill="#111111"/>
<circle cx="134.6" cy="273.3" r="2" fill="#111111"/>
<line x1="300.75" y1="243.3" x2="300.75" y2="386.8" stroke="#111111" stroke-width="1.6" />
<line x1="298.15" y1="244.6" x2="300.75" y2="244.6" stroke="#111111" stroke-width="1.3" />
<text x="297.15" y="247.59" font-size="8.3" text-anchor="end" fill="#111" >100</text>
<line x1="298.15" y1="272.88" x2="300.75" y2="272.88" stroke="#111111" stroke-width="1.3" />
<text x="297.15" y="275.87" font-size="8.3" text-anchor="end" fill="#111" >80</text>
<line x1="298.15" y1="301.16" x2="300.75" y2="301.16" stroke="#111111" stroke-width="1.3" />
<text x="297.15" y="304.15" font-size="8.3" text-anchor="end" fill="#111" >60</text>
<line x1="298.15" y1="329.44" x2="300.75" y2="329.44" stroke="#111111" stroke-width="1.3" />
<text x="297.15" y="332.43" font-size="8.3" text-anchor="end" fill="#111" >40</text>
<line x1="298.15" y1="357.72" x2="300.75" y2="357.72" stroke="#111111" stroke-width="1.3" />
<text x="297.15" y="360.71" font-size="8.3" text-anchor="end" fill="#111" >20</text>
<line x1="298.15" y1="386" x2="300.75" y2="386" stroke="#111111" stroke-width="1.3" />
<text x="297.15" y="388.99" font-size="8.3" text-anchor="end" fill="#111" >0</text>
<line x1="299.95" y1="386" x2="514" y2="386" stroke="#111111" stroke-width="1.6" />
<line x1="300.75" y1="386" x2="300.75" y2="388.6" stroke="#111111" stroke-width="1.3" />
<text x="300.75" y="397.6" font-size="8.3" text-anchor="middle" fill="#111" >0</text>
<line x1="336" y1="386" x2="336" y2="388.6" stroke="#111111" stroke-width="1.3" />
<text x="336" y="397.6" font-size="8.3" text-anchor="middle" fill="#111" >20</text>
<line x1="371.25" y1="386" x2="371.25" y2="388.6" stroke="#111111" stroke-width="1.3" />
<text x="371.25" y="397.6" font-size="8.3" text-anchor="middle" fill="#111" >40</text>
<line x1="406.5" y1="386" x2="406.5" y2="388.6" stroke="#111111" stroke-width="1.3" />
<text x="406.5" y="397.6" font-size="8.3" text-anchor="middle" fill="#111" >60</text>
<line x1="441.75" y1="386" x2="441.75" y2="388.6" stroke="#111111" stroke-width="1.3" />
<text x="441.75" y="397.6" font-size="8.3" text-anchor="middle" fill="#111" >80</text>
<line x1="477" y1="386" x2="477" y2="388.6" stroke="#111111" stroke-width="1.3" />
<text x="477" y="397.6" font-size="8.3" text-anchor="middle" fill="#111" >100</text>
<line x1="512.25" y1="386" x2="512.25" y2="388.6" stroke="#111111" stroke-width="1.3" />
<text x="512.25" y="397.6" font-size="8.3" text-anchor="middle" fill="#111" >120</text>
<text x="407.2" y="414.8" font-size="9.5" text-anchor="middle" fill="#111" >Days after tumor challenge</text>
<text x="0" y="0" font-size="10" text-anchor="middle" fill="#111" transform="translate(281.4,315.9) rotate(-90)">Percent survival</text>
<path d="M300.75,244.6 H447.3 V256.4 H484.8 V268.2 H487.7 V291.8 H509.6 V303.6 H513.5" fill="none" stroke="#633f92" stroke-width="1.2" stroke-linejoin="miter"/>
<rect x="445.3" y="254.4" width="4" height="4" fill="#52298a" stroke="#52298a" stroke-width="0.5"/>
<rect x="482.8" y="266.2" width="4" height="4" fill="#52298a" stroke="#52298a" stroke-width="0.5"/>
<rect x="485.7" y="289.8" width="4" height="4" fill="#52298a" stroke="#52298a" stroke-width="0.5"/>
<rect x="507.6" y="301.6" width="4" height="4" fill="#52298a" stroke="#52298a" stroke-width="0.5"/>
<rect x="511.6" y="301.6" width="4" height="4" fill="#52298a" stroke="#52298a" stroke-width="0.5"/>
<path d="M300.75,244.6 H513" fill="none" stroke="#3ba855" stroke-width="1.1" />
<path d="M300.75,244.6 H513" fill="none" stroke="#e2586a" stroke-width="1.1" />
<path d="M510.9,246.4 L515.9,246.4 L513.4,241.9 Z" fill="#3ba855"/>
<path d="M510.9,242.4 L515.9,242.4 L513.4,246.9 Z" fill="#d4283c"/>
<path d="M300.75,244.6 H410.3 V256.6 H414.1 V280.2 H439 V327.4 H450 V350.9 H468.7" fill="none" stroke="#8a8a8a" stroke-width="1.1" stroke-linejoin="miter"/>
<circle cx="410.3" cy="256.6" r="2.2" fill="#858585"/>
<circle cx="414.1" cy="280.2" r="2.2" fill="#858585"/>
<circle cx="439" cy="327.4" r="2.2" fill="#858585"/>
<circle cx="468.7" cy="350.9" r="2.2" fill="#858585"/>
<path d="M300.75,244.6 H411.4 V256.6 H414.1 V280.2 H439 V315.4 H450 V338.9 H463.6 V362.5 H468.7" fill="none" stroke="#a8a8a8" stroke-width="1.1" stroke-linejoin="miter"/>
<circle cx="426.5" cy="280.2" r="2.3" fill="#fff" stroke="#777777" stroke-width="1"/>
<circle cx="451.6" cy="338.9" r="2.3" fill="#fff" stroke="#777777" stroke-width="1"/>
<circle cx="463.6" cy="362.5" r="2.3" fill="#fff" stroke="#777777" stroke-width="1"/>
<circle cx="468.7" cy="362.5" r="2.3" fill="#fff" stroke="#777777" stroke-width="1"/>
<path d="M300.75,244.6 H414.2 V256.6 H426.4 V303.6 H439 V315.4 H447.4 V338.9 H451 V350.7 H463.6 V374.2 H476.2 V386" fill="none" stroke="#111111" stroke-width="1.3" stroke-linejoin="miter"/>
<circle cx="414.2" cy="256.6" r="2" fill="#111111"/>
<circle cx="426.4" cy="303.6" r="2" fill="#111111"/>
<circle cx="439" cy="315.4" r="2" fill="#111111"/>
<circle cx="447.4" cy="338.9" r="2" fill="#111111"/>
<circle cx="451" cy="350.7" r="2" fill="#111111"/>
<circle cx="463.6" cy="374.2" r="2" fill="#111111"/>
<circle cx="476.2" cy="386" r="2" fill="#111111"/>
<rect x="130.9" y="439.0" width="75.6" height="12.6" fill="none" stroke="#111" stroke-width="1.1"/>
<text x="132.9" y="448.2" font-size="8.35" text-anchor="start" fill="#111" >Treatment groups</text>
<rect x="279.3" y="439.0" width="40.0" height="12.6" fill="none" stroke="#111" stroke-width="1.1"/>
<text x="281.4" y="448.4" font-size="8.15" text-anchor="start" fill="#111" >Controls</text>
<line x1="130.7" y1="461.1" x2="141.5" y2="461.1" stroke="#d9293a" stroke-width="1" />
<path d="M134.2,459.5 L138.2,459.5 L136.2,463.1 Z" fill="#d9293a"/>
<text x="147.6" y="464.1" font-size="8" text-anchor="start" fill="#111" >T cells + 30 µg MOR209/ES414</text>
<line x1="130.7" y1="472.6" x2="141.5" y2="472.6" stroke="#3ba855" stroke-width="1" />
<path d="M134.2,474.2 L138.2,474.2 L136.2,470.6 Z" fill="#3ba855"/>
<text x="147.6" y="475.6" font-size="8" text-anchor="start" fill="#111" >T cells + 3 µg MOR209/ES414</text>
<line x1="130.7" y1="484" x2="141.5" y2="484" stroke="#2c1a52" stroke-width="1" />
<circle cx="136.2" cy="484" r="2.1" fill="#2c1a52"/>
<text x="147.6" y="487" font-size="8" text-anchor="start" fill="#111" >T cells + 0.3 µg MOR209/ES414</text>
<line x1="130.7" y1="495.1" x2="141.5" y2="495.1" stroke="#3796b8" stroke-width="1" />
<path d="M134.2,493.5 L138.2,493.5 L136.2,497.1 Z" fill="#fff" stroke="#3796b8" stroke-width="0.9"/>
<text x="147.6" y="498.1" font-size="8" text-anchor="start" fill="#111" >T cells + 5 µg scFv-scFv</text>
<line x1="278" y1="462.3" x2="288.3" y2="462.3" stroke="#555" stroke-width="1" />
<rect x="281.1" y="460.3" width="4" height="4" fill="#fff" stroke="#222" stroke-width="1.2"/>
<text x="294.8" y="465.2" font-size="8" text-anchor="start" fill="#111" >Matrigel only</text>
<line x1="278" y1="473.3" x2="288.3" y2="473.3" stroke="#777" stroke-width="1" />
<circle cx="283.1" cy="473.3" r="2.4" fill="#666"/>
<text x="294.8" y="476.2" font-size="8" text-anchor="start" fill="#111" >Vehicle (tumor only)</text>
<line x1="278" y1="484.4" x2="288.3" y2="484.4" stroke="#999" stroke-width="1" />
<circle cx="283.1" cy="484.4" r="2.1" fill="#fff" stroke="#888" stroke-width="1"/>
<text x="294.8" y="487.3" font-size="8" text-anchor="start" fill="#111" >30 µg MOR209/ES414&#160;&#160;(no T cell)</text>
<line x1="278" y1="495.2" x2="288.3" y2="495.2" stroke="#111111" stroke-width="1" />
<path d="M283.1,492.9 L285.4,495.2 L283.1,497.5 L280.8,495.2 Z" fill="#111111"/>
<text x="294.8" y="498.1" font-size="8" text-anchor="start" fill="#111" >T cells + Vehicle</text>
</svg>
</body></html>
